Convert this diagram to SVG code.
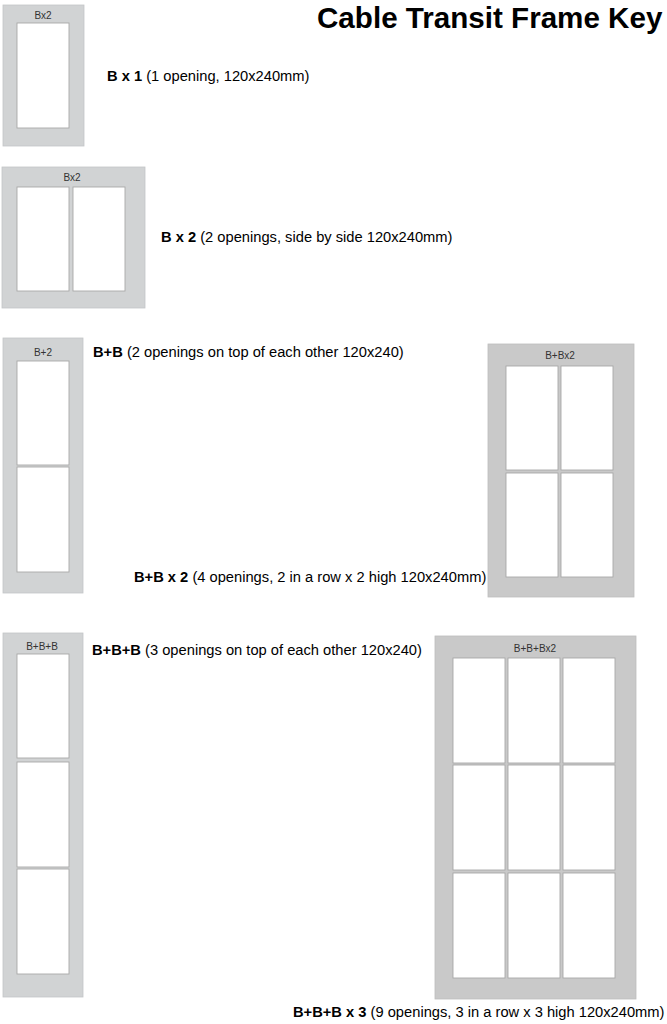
<svg xmlns="http://www.w3.org/2000/svg" width="667" height="1024" viewBox="0 0 667 1024">
<style>
.frame{fill:#d1d3d4;stroke:#c4c6c7;stroke-width:0.8}
.frameB{fill:#c9c9c9;stroke:#bdbdbd;stroke-width:0.8}
.open{fill:#ffffff;stroke:#a8a8a8;stroke-width:0.9}
.lbl{font-family:"Liberation Sans",Arial,sans-serif;font-size:10px;fill:#333;text-anchor:middle}
.desc{font-family:"Liberation Sans",Arial,sans-serif;font-size:14.7px;fill:#000}
.b{font-weight:bold}
.title{font-family:"Liberation Sans",Arial,sans-serif;font-size:29.6px;font-weight:bold;fill:#000}
</style>
<rect width="667" height="1024" fill="#ffffff"/>
<text id="title" class="title" x="317" y="28">Cable Transit Frame Key</text>

<g id="frame-bx1">
<rect class="frame" x="3" y="5" width="81" height="141"/>
<text class="lbl" x="43" y="19">Bx2</text>
<rect class="open" x="17" y="23" width="52" height="105"/>
</g>
<text class="desc" x="107" y="81"><tspan class="b">B x 1</tspan> (1 opening, 120x240mm)</text>

<g id="frame-bx2">
<rect class="frame" x="2" y="167" width="143" height="141"/>
<text class="lbl" x="72" y="181">Bx2</text>
<rect class="open" x="17" y="187" width="52" height="104"/>
<rect class="open" x="73" y="187" width="52" height="104"/>
</g>
<text class="desc" x="161" y="242"><tspan class="b">B x 2</tspan> (2 openings, side by side 120x240mm)</text>

<g id="frame-bb">
<rect class="frame" x="3" y="338" width="80" height="255"/>
<text class="lbl" x="43" y="356">B+2</text>
<rect class="open" x="17" y="361" width="52" height="104"/>
<rect class="open" x="17" y="467" width="52" height="105"/>
</g>
<text class="desc" x="93" y="357"><tspan class="b">B+B</tspan> (2 openings on top of each other 120x240)</text>

<g id="frame-bbx2">
<rect class="frameB" x="488" y="344" width="146" height="253"/>
<text class="lbl" x="560" y="359">B+Bx2</text>
<rect class="open" x="506" y="366" width="52" height="104"/>
<rect class="open" x="561" y="366" width="52" height="104"/>
<rect class="open" x="506" y="473" width="52" height="104"/>
<rect class="open" x="561" y="473" width="52" height="104"/>
</g>
<text class="desc" x="134" y="582"><tspan class="b">B+B x 2</tspan> (4 openings, 2 in a row x 2 high 120x240mm)</text>

<g id="frame-bbb">
<rect class="frame" x="3" y="633" width="80" height="364"/>
<text class="lbl" x="42" y="650">B+B+B</text>
<rect class="open" x="17" y="654" width="52" height="104"/>
<rect class="open" x="17" y="762" width="52" height="105"/>
<rect class="open" x="17" y="869" width="52" height="105"/>
</g>
<text class="desc" x="92" y="655"><tspan class="b">B+B+B</tspan> (3 openings on top of each other 120x240)</text>

<g id="frame-bbbx3">
<rect class="frameB" x="435" y="636" width="201" height="363"/>
<text class="lbl" x="535" y="652">B+B+Bx2</text>
<rect class="open" x="453" y="658" width="52" height="105"/>
<rect class="open" x="508" y="658" width="52" height="105"/>
<rect class="open" x="563" y="658" width="52" height="105"/>
<rect class="open" x="453" y="765" width="52" height="105"/>
<rect class="open" x="508" y="765" width="52" height="105"/>
<rect class="open" x="563" y="765" width="52" height="105"/>
<rect class="open" x="453" y="873" width="52" height="105"/>
<rect class="open" x="508" y="873" width="52" height="105"/>
<rect class="open" x="563" y="873" width="52" height="105"/>
</g>
<text class="desc" x="293" y="1017"><tspan class="b">B+B+B x 3</tspan> (9 openings, 3 in a row x 3 high 120x240mm)</text>
<g id="connectors"/>
</svg>
